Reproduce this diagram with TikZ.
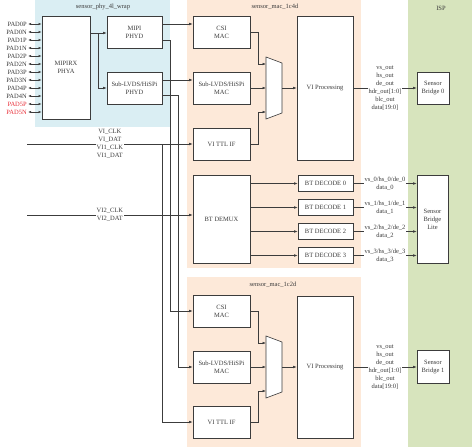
\documentclass[tikz,border=0pt]{standalone}
\usepackage{fontspec}
\setmainfont{Liberation Serif}
\usetikzlibrary{arrows.meta}
\definecolor{phyblue}{HTML}{DAEEF3}
\definecolor{macorange}{HTML}{FDE9D9}
\definecolor{ispgreen}{HTML}{D7E4BD}
\definecolor{ink}{HTML}{3C3C3C}
\definecolor{padred}{HTML}{E8303A}
\begin{document}
\begin{tikzpicture}[x=1pt,y=-1pt,
  font=\fontsize{6.5}{8}\selectfont,
  every node/.style={text=ink},
  box/.style={draw=ink, line width=0.6pt, fill=white, align=center, inner sep=0pt},
  muxshape/.style={draw=ink, line width=0.6pt, fill=white},
  titlel/.style={inner sep=0pt},
  wire/.style={draw=ink, line width=0.6pt},
  arr/.style={wire, -{Latex[length=3.5pt,width=2.6pt]}},
  darr/.style={wire, {Latex[length=3.2pt,width=2.4pt]}-{Latex[length=3.2pt,width=2.4pt]}},
  lbl/.style={fill=white, inner sep=0.6pt, align=center},
  padl/.style={anchor=east, inner sep=0pt}
]
\useasboundingbox (0,0) rectangle (474,447);
% regions
\fill[phyblue] (35,0) rectangle (170,127);
\fill[macorange] (187,0) rectangle (361,268);
\fill[macorange] (187,277) rectangle (361,447);
\fill[ispgreen] (408,0) rectangle (472,447);
\node[titlel] (tphy) at (103,7) {sensor\_phy\_4l\_wrap};
\node[titlel] (tmac1) at (275,7) {sensor\_mac\_1c4d};
\node[titlel] (tmac2) at (273,285) {sensor\_mac\_1c2d};
\node[titlel] (tisp) at (441,8) {ISP};

% PHY
\node[box, minimum width=48pt, minimum height=103pt] (mipirx) at (66,67.5) {MIPIRX\\PHYA};
\node[box, minimum width=55pt, minimum height=32pt] (mipid) at (134.5,32) {MIPI\\PHYD};
\node[box, minimum width=55pt, minimum height=32pt] (subd) at (134.5,88) {Sub-LVDS/HiSPi\\PHYD};

\foreach \n/\c [count=\i from 0] in {PAD0P/ink,PAD0N/ink,PAD1P/ink,PAD1N/ink,PAD2P/ink,PAD2N/ink,PAD3P/ink,PAD3N/ink,PAD4P/ink,PAD4N/ink,PAD5P/padred,PAD5N/padred}{
  \node[padl, text=\c] (pad\i) at (27,{24+8*\i}) {\n};
  \coordinate (pads\i) at (28,{24+8*\i});
  \draw[darr] (pads\i) -- (pads\i -| mipirx.west);
}

% upper MAC
\node[box, minimum width=57pt, minimum height=32pt] (csi1) at (221.5,32) {CSI\\MAC};
\node[box, minimum width=57pt, minimum height=32pt] (sub1) at (221.5,88) {Sub-LVDS/HiSPi\\MAC};
\node[box, minimum width=57pt, minimum height=32pt] (ttl1) at (221.5,144) {VI TTL IF};
\draw[muxshape] (266,57) -- (282,63) -- (282,113) -- (266,119) -- cycle;
\coordinate (m1a) at (266,64);
\coordinate (m1b) at (266,88);
\coordinate (m1c) at (266,112);
\coordinate (m1o) at (282,88);
\node[box, minimum width=56pt, minimum height=144pt] (vp1) at (325,88) {VI Processing};
\node[box, minimum width=32pt, minimum height=32pt] (sb0) at (433,88) {Sensor\\Bridge 0};

% BT
\node[box, minimum width=57pt, minimum height=88pt] (demux) at (221.5,219) {BT DEMUX};
\foreach \k/\yy in {0/183.5,1/207.5,2/231.5,3/255.5}{
  \node[box, minimum width=55pt, minimum height=16.5pt] (dec\k) at (325.5,\yy) {BT DECODE \k};
}
\node[box, minimum width=31pt, minimum height=88pt] (sbl) at (432.5,219) {Sensor\\Bridge\\Lite};

% lower MAC
\node[box, minimum width=57pt, minimum height=32pt] (csi2) at (221.5,311) {CSI\\MAC};
\node[box, minimum width=57pt, minimum height=32pt] (sub2) at (221.5,367) {Sub-LVDS/HiSPi\\MAC};
\node[box, minimum width=57pt, minimum height=32pt] (ttl2) at (221.5,422) {VI TTL IF};
\draw[muxshape] (266,336) -- (282,342) -- (282,392) -- (266,398) -- cycle;
\coordinate (m2a) at (266,343);
\coordinate (m2b) at (266,367);
\coordinate (m2c) at (266,391);
\coordinate (m2o) at (282,367);
\node[box, minimum width=56pt, minimum height=142pt] (vp2) at (325,367) {VI Processing};
\node[box, minimum width=32pt, minimum height=33pt] (sb1) at (433,367) {Sensor\\Bridge 1};

% PHY wiring
\coordinate (j1) at (98,33);
\draw[wire] (mipirx.east |- j1) -- (j1);
\draw[arr] (j1) -- (j1 -| mipid.west);
\draw[arr] (j1) |- (subd.west);
\coordinate (mo1) at (162,24);
\coordinate (mo2) at (162,40);
\coordinate (so1) at (162,80);
\coordinate (so2) at (162,95);
\draw[arr] (mo1) -- (mo1 -| csi1.west);
\draw[arr] (mo2) -- (170,40) |- (csi2.west);
\draw[arr] (so1) -- (so1 -| sub1.west);
\draw[arr] (so2) -- (178,95) |- (sub2.west);

% VI inputs
\coordinate (vi1s) at (27,144);
\coordinate (vi1j) at (162,144);
\draw[arr] (vi1s) -- node[lbl] (lvi1) {VI\_CLK\\VI\_DAT\\VI1\_CLK\\VI1\_DAT} (vi1s -| ttl1.west);
\draw[arr] (vi1j) |- (ttl2.west);
\coordinate (vi2s) at (27,215);
\draw[arr] (vi2s) -- node[lbl] (lvi2) {VI2\_CLK\\VI2\_DAT} (vi2s -| demux.west);

% upper mux
\draw[arr] (csi1.east) -- (258,32) |- (m1a);
\draw[arr] (sub1.east) -- (m1b);
\draw[arr] (ttl1.east) -- (258,144) |- (m1c);
\draw[arr] (m1o) -- (m1o -| vp1.west);
\draw[arr] (vp1.east) -- node[lbl] (lo0) {vs\_out\\hs\_out\\de\_out\\hdr\_out[1:0]\\blc\_out\\data[19:0]} (sb0.west);

% BT wiring
\foreach \k in {0,1,2,3}{
  \draw[arr] (demux.east |- dec\k.west) -- (dec\k.west);
  \draw[arr] (dec\k.east) -- node[lbl] (ld\k) {vs\_\k/hs\_\k/de\_\k\\data\_\k} (dec\k.east -| sbl.west);
}

% lower mux
\draw[arr] (csi2.east) -- (258,311) |- (m2a);
\draw[arr] (sub2.east) -- (m2b);
\draw[arr] (ttl2.east) -- (258,422) |- (m2c);
\draw[arr] (m2o) -- (m2o -| vp2.west);
\draw[arr] (vp2.east) -- node[lbl] (lo1) {vs\_out\\hs\_out\\de\_out\\hdr\_out[1:0]\\blc\_out\\data[19:0]} (sb1.west);
\end{tikzpicture}
\end{document}
